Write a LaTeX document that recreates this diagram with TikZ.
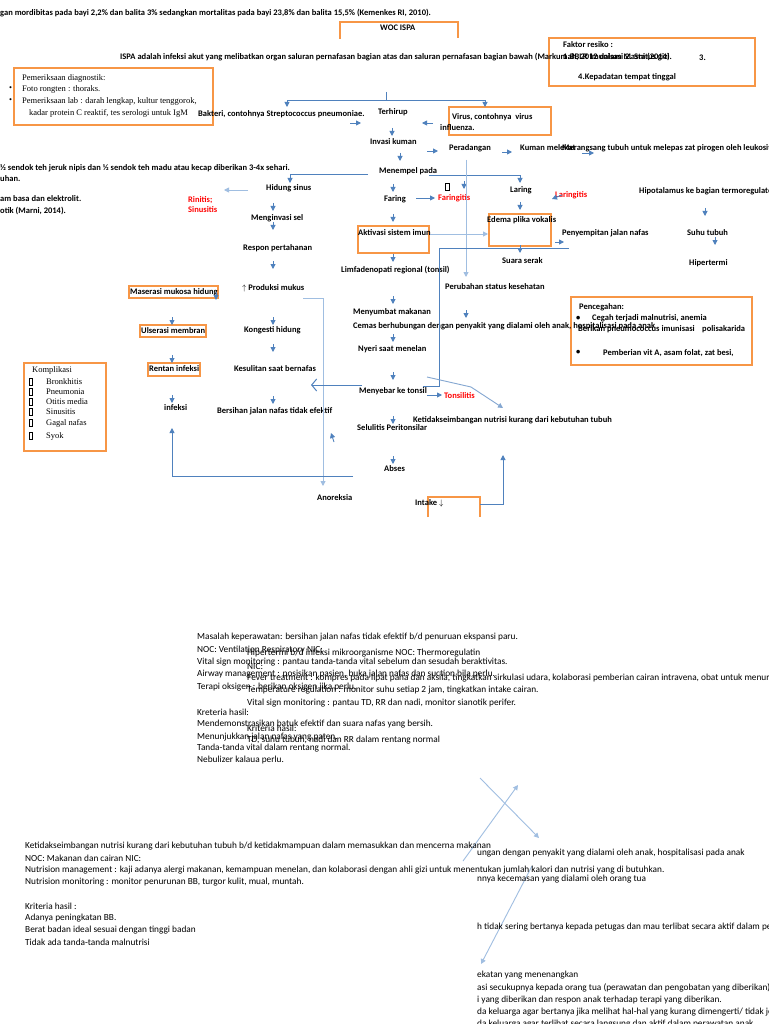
\documentclass[tikz,border=0pt]{standalone}
\usepackage{fontspec}
\setmainfont{Carlito}
\newfontfamily\serfam{Liberation Serif}
\usetikzlibrary{arrows.meta}
\definecolor{cBlue}{RGB}{79,129,189}
\definecolor{cLight}{RGB}{160,190,225}
\definecolor{cOrange}{RGB}{247,150,70}
\newcommand\flowfont{\fontsize{8.5}{9.5}\selectfont\bfseries}
\newcommand\notefont{\fontsize{9.3}{11}\selectfont}
\newcommand\serfont{\serfam\fontsize{8.5}{10}\selectfont}
\tikzset{
  ft/.style={anchor=west,inner sep=0pt,font=\flowfont},
  redtxt/.style={ft,text=red},
  nt/.style={anchor=west,inner sep=0pt,font=\notefont},
  sf/.style={anchor=west,inner sep=0pt,font=\serfont},
  obox/.style={draw=cOrange,line width=1.4pt},
  arr/.style={-{Triangle[length=5pt,width=5pt]},draw=cBlue,line width=0.9pt},
  larr/.style={arr,draw=cLight},
  bline/.style={draw=cBlue,line width=1pt},
  gbox/.style={draw,line width=0.5pt}
}

\begin{document}
\begin{tikzpicture}[x=1pt,y=-1pt]
  \useasboundingbox (0,0) rectangle (768,1024);
  \fill[white] (0,0) rectangle (768,1024);

  % orange frames
  \draw[obox] (340,39) -- (340,22) -- (458,22) -- (458,38);
  \draw[obox] (549,38) rectangle (755,86);
  \draw[obox] (14,68) rectangle (213,125);
  \draw[obox] (449,107) rectangle (551,135);
  \draw[obox] (489,214) rectangle (551,246);
  \draw[obox] (358,226) rectangle (429,253);
  \draw[obox] (129,286) rectangle (218,298);
  \draw[obox] (140,325) rectangle (206,337);
  \draw[obox] (148,363) rectangle (200,376);
  \draw[obox] (24,363) rectangle (106,451);
  \draw[obox] (571,297) rectangle (752,365);
  \draw[obox] (428,517) -- (428,497) -- (480,497) -- (480,517);

  % header
  \node[ft] (intro) at (0,13) {gan mordibitas pada bayi 2,2\% dan balita 3\% sedangkan mortalitas pada bayi 23,8\% dan balita 15,5\% (Kemenkes RI, 2010).};
  \node[ft] (woc) at (380,28) {WOC ISPA};
  \node[ft] (ispa) at (120,57) {ISPA adalah infeksi akut yang melibatkan organ saluran pernafasan bagian atas dan saluran pernafasan bagian bawah (Markumah, 2012 dalam Masni (2014).};
  \node[ft] (faktor) at (563,45) {Faktor resiko :};
  \node[ft] (faktorA) at (563,57) {1.BBLR Imunisasi 2. Status gizi};
  \node[ft] (faktorB) at (699,58) {3.};
  \node[ft] (faktorC) at (578,77) {4.Kepadatan tempat tinggal};

  % diagnostik
  \node[sf] (diag) at (22,78) {Pemeriksaan diagnostik:};
  \node[sf] (bulA) at (9,89) {\textbullet};
  \node[sf] (foto) at (22,89) {Foto rongten : thoraks.};
  \node[sf] (bulB) at (9,101) {\textbullet};
  \node[sf] (lab) at (22,101) {Pemeriksaan lab : darah lengkap, kultur tenggorok,};
  \node[sf] (labB) at (29,113) {kadar protein C reaktif, tes serologi untuk IgM};

  % upper flow
  \node[ft] (bakteri) at (198,114) {Bakteri, contohnya Streptococcus pneumoniae.};
  \node[ft] (terhirup) at (378,112) {Terhirup};
  \node[ft] (virus) at (452,117) {Virus, contohnya\ \ virus};
  \node[ft] (influenza) at (440,128) {influenza.};
  \node[ft] (invasi) at (370,142) {Invasi kuman};
  \node[ft] (peradangan) at (449,148) {Peradangan};
  \node[ft] (kuman) at (520,148) {Kuman melekat};
  \node[ft] (merangsang) at (562,148) {Merangsang tubuh untuk melepas zat pirogen oleh leukosit};
  \node[ft] (menempel) at (379,171) {Menempel pada};

  \node[ft] (sendok) at (0,168) {½ sendok teh jeruk nipis dan ½ sendok teh madu atau kecap diberikan 3-4x sehari.};
  \node[ft] (uhan) at (0,179) {uhan.};
  \node[ft] (basa) at (0,199) {am basa dan elektrolit.};
  \node[ft] (marni) at (0,211) {otik (Marni, 2014).};

  \node[ft] (hidung) at (266,188) {Hidung sinus};
  \node[redtxt] (rinitis) at (188,200) {Rinitis;};
  \node[redtxt] (sinusitis) at (188,210) {Sinusitis};
  \node[ft] (faring) at (384,199) {Faring};
  \node[redtxt] (faringitis) at (438,198) {Faringitis};
  \node[ft] (laring) at (510,190) {Laring};
  \node[redtxt] (laringitis) at (555,195) {Laringitis};
  \node[ft] (hipotalamus) at (639,191) {Hipotalamus ke bagian termoregulator};
  \node[ft] (menginvasi) at (251,218) {Menginvasi sel};
  \node[ft] (edema) at (487,220) {Edema plika vokalis};
  \node[ft] (aktivasi) at (358,233) {Aktivasi sistem imun};
  \node[ft] (penyempitan) at (562,233) {Penyempitan jalan nafas};
  \node[ft] (suhu) at (687,233) {Suhu tubuh};
  \node[ft] (respon) at (243,248) {Respon pertahanan};
  \node[ft] (suara) at (502,261) {Suara serak};
  \node[ft] (hipertermi) at (689,263) {Hipertermi};
  \node[ft] (limfa) at (341,270) {Limfadenopati regional (tonsil)};
  \node[ft] (perubahan) at (445,287) {Perubahan status kesehatan};
  \node[ft] (produksi) at (242,288) {$\uparrow$ Produksi mukus};
  \node[ft] (maserasi) at (130,292) {Maserasi mukosa hidung};
  \node[ft] (menyumbat) at (353,312) {Menyumbat makanan};
  \node[ft] (cemas) at (353,326) {Cemas berhubungan dengan penyakit yang dialami oleh anak, hospitalisasi pada anak};
  \node[ft] (kongesti) at (244,330) {Kongesti hidung};
  \node[ft] (ulserasi) at (141,331) {Ulserasi membran};
  \node[ft] (nyeri) at (358,349) {Nyeri saat menelan};
  \node[ft] (kesulitan) at (234,369) {Kesulitan saat bernafas};
  \node[ft] (rentan) at (149,369) {Rentan infeksi};
  \node[ft] (menyebar) at (359,391) {Menyebar ke tonsil};
  \node[redtxt] (tonsilitis) at (444,396) {Tonsilitis};
  \node[ft] (infeksi) at (164,408) {infeksi};
  \node[ft] (bersihan) at (217,411) {Bersihan jalan nafas tidak efektif};
  \node[ft] (ketidak) at (413,420) {Ketidakseimbangan nutrisi kurang dari kebutuhan tubuh};
  \node[ft] (selulitis) at (357,428) {Selulitis Peritonsilar};
  \node[ft] (abses) at (384,469) {Abses};
  \node[ft] (anoreksia) at (317,498) {Anoreksia};
  \node[ft] (intake) at (415,503) {Intake $\downarrow$};

  % pencegahan
  \node[ft] (cegah) at (579,307) {Pencegahan:};
  \node[ft] (bulC) at (576,318) {\textbullet};
  \node[ft] (cegahA) at (592,318) {Cegah terjadi malnutrisi, anemia};
  \node[ft] (cegahB) at (578,329) {Berikan pneumococcus imunisasi};
  \node[ft] (cegahC) at (702,329) {polisakarida};
  \node[ft] (bulD) at (576,352) {\textbullet};
  \node[ft] (cegahD) at (603,353) {Pemberian vit A, asam folat, zat besi,};

  % komplikasi
  \node[sf] (kompl) at (32,370) {Komplikasi};
  \foreach \y/\t in {382/Bronkhitis,392/Pneumonia,402/Otitis media,412/Sinusitis,423/Gagal nafas,436/Syok}{
    \draw[gbox] (29,\y-4) rectangle (32,\y+3);
    \node[sf] at (46,\y) {\t};
  }
  \draw[gbox] (445,183) rectangle (449,190);

  % connectors
  \draw[arr] (386,92) -- (386,100) -| (287,107);
  \draw[arr] (386,100) -| (485,107);
  \draw[arr] (350,123) -- (361,123);
  \draw[arr] (433,123) -- (422,123);
  \foreach \x/\y in {392/128,400/153,464/181,273/203,393/184,520/202,705/208,
                     273/222,393/214,715/237,520/245,393/254,273/261,216/292,
                     393/296,466/310,172/317,273/317,393/334,273/344,172/355,
                     393/372,273/396,172/395,393/416,393/456}
    \draw[arr] (\x,\y) -- ++(0,8);
  \draw[arr] (427,151) -- (438,151);
  \draw[arr] (502,152) -- (512,152);
  \draw[arr] (582,153) -- (594,153);
  \draw[arr] (368,174) -| (290,183);
  \draw[arr] (429,175) -| (520,183);
  \draw[larr] (466,160) -- (466,277);
  \draw[larr] (248,190) -- (224,190);
  \draw[arr] (416,198) -- (435,198);
  \draw[arr] (562,195) -- (552,199);
  \draw[larr] (430,234) -- (488,234);
  \draw[arr] (555,242) -- (564,242);
  \draw[bline] (569,248) -- (439,248) -- (439,386) -- (423,386);
  \draw[larr] (303,298) -- (323,298) -- (323,486);
  \draw[bline,-{Straight Barb[length=5pt,width=12pt]}] (362,385) -- (311,385);
  \draw[arr] (427,395) -- (442,395);
  \draw[arr,draw=cBlue!70] (427,377) -- (471,387) -- (503,408);
  \draw[arr] (353,476) -- (172,476) -- (172,428);
  \draw[arr] (334,442) -- (331,433);
  \draw[arr] (480,504) -- (503,504) -- (503,455);
  \draw[larr] (480,778) -- (539,838);
  \draw[larr] (463,861) -- (518,785);
  \draw[larr] (532,866) -- (481,964);

  % nursing notes
  \node[nt] (masalah) at (197,637) {Masalah keperawatan: bersihan jalan nafas tidak efektif b/d penuruan ekspansi paru.};
  \node[nt] (nocA) at (197,650) {NOC: Ventilation Respiratory NIC:};
  \node[nt] (vitalA) at (197,662) {Vital sign monitoring : pantau tanda-tanda vital sebelum dan sesudah beraktivitas.};
  \node[nt] (airway) at (197,674) {Airway management : posisikan pasien, buka jalan nafas dan suction bila perlu.};
  \node[nt] (terapi) at (197,687) {Terapi oksigen : berikan oksigen jika perlu.};
  \node[nt] (kretA) at (197,712) {Kreteria hasil:};
  \node[nt] (demo) at (197,724) {Mendemonstrasikan batuk efektif dan suara nafas yang bersih.};
  \node[nt] (paten) at (197,737) {Menunjukkan jalan nafas yang paten.};
  \node[nt] (ttv) at (197,748) {Tanda-tanda vital dalam rentang normal.};
  \node[nt] (nebul) at (197,760) {Nebulizer kalaua perlu.};

  \node[nt] (hiperB) at (247,653) {Hipertermi b/d infeksi mikroorganisme NOC: Thermoregulatin};
  \node[nt] (nicB) at (247,667) {NIC:};
  \node[nt] (fever) at (247,678) {Fever treatment : kompres pada lipat paha dan aksila, tingkatkan sirkulasi udara, kolaborasi pemberian cairan intravena, obat untuk menurunkan panas.};
  \node[nt] (temp) at (247,690) {Temperature regulation : monitor suhu setiap 2 jam, tingkatkan intake cairan.};
  \node[nt] (vitalB) at (247,703) {Vital sign monitoring : pantau TD, RR dan nadi, monitor sianotik perifer.};
  \node[nt] (kretB) at (247,728) {Kriteria hasil:};
  \node[nt] (tdB) at (247,740) {TD, suhu tubuh, nadi dan RR dalam rentang normal};

  \node[nt] (nutri) at (25,846) {Ketidakseimbangan nutrisi kurang dari kebutuhan tubuh b/d ketidakmampuan dalam memasukkan dan mencerna makanan};
  \node[nt] (nocC) at (25,858) {NOC: Makanan dan cairan NIC:};
  \node[nt] (nman) at (25,870) {Nutrision management : kaji adanya alergi makanan, kemampuan menelan, dan kolaborasi dengan ahli gizi untuk menentukan jumlah kalori dan nutrisi yang di butuhkan.};
  \node[nt] (nmon) at (25,882) {Nutrision monitoring : monitor penurunan BB, turgor kulit, mual, muntah.};
  \node[nt] (kretC) at (25,906) {Kriteria hasil :};
  \node[nt] (bb) at (25,918) {Adanya peningkatan BB.};
  \node[nt] (berat) at (25,930) {Berat badan ideal sesuai dengan tinggi badan};
  \node[nt] (maln) at (25,942) {Tidak ada tanda-tanda malnutrisi};

  \node[nt] (cemasA) at (477,853) {ungan dengan penyakit yang dialami oleh anak, hospitalisasi pada anak};
  \node[nt] (cemasB) at (477,879) {nnya kecemasan yang dialami oleh orang tua};
  \node[nt] (cemasC) at (477,927) {h tidak sering bertanya kepada petugas dan mau terlibat secara aktif dalam perawatan anak};
  \node[nt] (cemasD) at (477,975) {ekatan yang menenangkan};
  \node[nt] (cemasE) at (477,988) {asi secukupnya kepada orang tua (perawatan dan pengobatan yang diberikan)};
  \node[nt] (cemasF) at (477,1000) {i yang diberikan dan respon anak terhadap terapi yang diberikan.};
  \node[nt] (cemasG) at (477,1012) {da keluarga agar bertanya jika melihat hal-hal yang kurang dimengerti/ tidak jelas};
  \node[nt] (cemasH) at (477,1024) {da keluarga agar terlibat secara langsung dan aktif dalam perawatan anak};
\end{tikzpicture}
\end{document}
